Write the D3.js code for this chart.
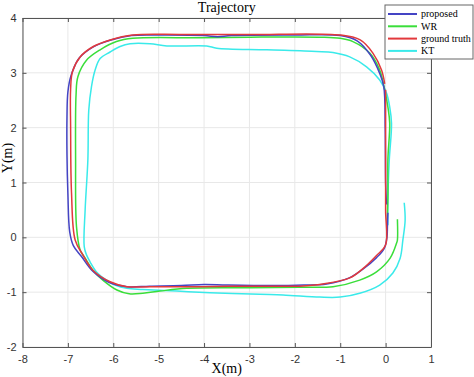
<!DOCTYPE html>
<html>
<head>
<meta charset="utf-8">
<script src="https://cdn.jsdelivr.net/npm/d3@7"></script>
<style>
  body { margin: 0; background: #fff; }
  svg { display: block; }
</style>
</head>
<body>
<svg id="chart" width="474" height="377"></svg>
<script>
// trajectory points, [x, y] in metres
var groundTruth = [
  [0.0, 2.69], [0.0, 1.5], [0.0, 0.5], [0.0, -0.14], [-0.20, -0.33], [-0.50, -0.57],
  [-0.79, -0.74], [-1.38, -0.85], [-1.89, -0.89], [-2.99, -0.89], [-4.09, -0.90],
  [-5.19, -0.90], [-5.70, -0.90], [-6.07, -0.81], [-6.45, -0.60], [-6.67, -0.32],
  [-6.84, -0.05], [-6.92, 0.81], [-6.94, 2.01], [-6.94, 2.70], [-6.90, 3.02],
  [-6.73, 3.29], [-6.44, 3.48], [-6.07, 3.60], [-5.57, 3.69], [-4.5, 3.70],
  [-3.0, 3.70], [-1.0, 3.69], [-0.56, 3.60], [-0.28, 3.36], [-0.09, 3.05],
  [-0.02, 2.80]
];
var proposed = [
  [0.05, 0.45], [0.04, 0.20], [0.03, 0.0], [-0.03, -0.20], [-0.20, -0.37], [-0.50, -0.58],
  [-0.80, -0.74], [-1.30, -0.85], [-1.80, -0.87], [-2.50, -0.88], [-3.50, -0.87],
  [-4.00, -0.86], [-4.50, -0.88], [-5.20, -0.89], [-5.70, -0.90], [-6.10, -0.82],
  [-6.45, -0.62], [-6.70, -0.35], [-6.88, -0.15], [-6.96, 0.10], [-7.00, 0.80],
  [-7.02, 1.50], [-7.02, 2.20], [-7.00, 2.65], [-6.93, 2.95], [-6.75, 3.27],
  [-6.45, 3.47], [-6.05, 3.60], [-5.60, 3.68], [-5.00, 3.69], [-4.00, 3.68],
  [-3.70, 3.66], [-3.40, 3.68], [-2.00, 3.69], [-1.00, 3.68], [-0.62, 3.58],
  [-0.33, 3.32], [-0.13, 2.99], [-0.04, 2.75], [-0.01, 2.00], [0.00, 1.00],
  [0.02, 0.60]
];
var wr = [
  [0.26, 0.33], [0.26, -0.05], [0.24, -0.11], [0.10, -0.38], [-0.20, -0.63],
  [-0.57, -0.78], [-1.16, -0.90], [-1.89, -0.91], [-2.99, -0.92], [-4.38, -0.93],
  [-4.97, -0.98], [-5.35, -1.02], [-5.65, -1.03], [-5.92, -0.96], [-6.23, -0.78],
  [-6.45, -0.60], [-6.62, -0.38], [-6.73, -0.23], [-6.81, 0.19], [-6.83, 1.41],
  [-6.82, 2.60], [-6.78, 2.93], [-6.59, 3.23], [-6.29, 3.42], [-5.93, 3.57],
  [-5.57, 3.63], [-4.09, 3.64], [-2.99, 3.65], [-1.45, 3.65], [-1.00, 3.63],
  [-0.72, 3.57], [-0.35, 3.36], [-0.13, 3.05], [-0.02, 2.69], [0.05, 2.38],
  [0.09, 2.08], [0.05, 1.41], [0.05, 0.73], [0.03, 0.22]
];
var kt = [
  [0.41, 0.63], [0.43, 0.31], [0.38, -0.05], [0.32, -0.38], [0.16, -0.65],
  [-0.13, -0.87], [-0.57, -1.02], [-1.00, -1.09], [-1.45, -1.09], [-2.26, -1.05],
  [-2.77, -1.04], [-3.87, -1.01], [-4.60, -0.98], [-5.35, -0.95], [-5.70, -0.93],
  [-5.96, -0.87], [-6.15, -0.78], [-6.37, -0.63], [-6.51, -0.45], [-6.59, -0.32],
  [-6.64, -0.17], [-6.62, 0.50], [-6.56, 1.41], [-6.54, 2.32], [-6.48, 2.75],
  [-6.40, 3.05], [-6.29, 3.26], [-6.07, 3.38], [-5.85, 3.48], [-5.63, 3.53],
  [-5.19, 3.53], [-4.82, 3.49], [-3.94, 3.49], [-3.72, 3.45], [-2.62, 3.42],
  [-1.52, 3.39], [-1.16, 3.37], [-0.79, 3.29], [-0.42, 3.11], [-0.13, 2.87],
  [0.02, 2.63], [0.09, 2.38], [0.13, 2.08], [0.08, 1.40], [0.05, 0.68],
  [0.05, 0.22]
];

var xTicks = [-8, -7, -6, -5, -4, -3, -2, -1, 0, 1];
var yTicks = [-2, -1, 0, 1, 2, 3, 4];

var seriesNames = ["proposed", "WR", "ground truth", "KT"];
var seriesColors = ["#4444c4", "#3ade3a", "#e2393c", "#3aeaea"];
var seriesData = [proposed, wr, groundTruth, kt];

var svg = d3.select("#chart"),
    margin = {top: 18, right: 43, bottom: 30, left: 22.5},
    width = +svg.attr("width") - margin.left - margin.right,
    height = +svg.attr("height") - margin.top - margin.bottom,
    g = svg.append("g").attr("transform", "translate(" + margin.left + "," + margin.top + ")");

var x = d3.scaleLinear().domain([-8, 1]).range([0, width]);
var y = d3.scaleLinear().domain([-2, 4]).range([height, 0]);

// grid
g.append("g").selectAll("line").data(xTicks).join("line")
    .attr("x1", function(d) { return x(d); }).attr("x2", function(d) { return x(d); })
    .attr("y1", 0).attr("y2", height)
    .attr("stroke", "#e8e8e8").attr("stroke-width", 1);
g.append("g").selectAll("line").data(yTicks).join("line")
    .attr("y1", function(d) { return y(d); }).attr("y2", function(d) { return y(d); })
    .attr("x1", 0).attr("x2", width)
    .attr("stroke", "#e8e8e8").attr("stroke-width", 1);

var sans = "Liberation Sans, Arial, sans-serif";
var serif = "Liberation Serif, Times New Roman, serif";
var plain = function(d) { return String(d); };

// axes, matlab style: ticks inside, box on all sides
g.append("g")
    .attr("transform", "translate(0," + height + ")")
    .call(d3.axisBottom(x).tickValues(xTicks).tickFormat(plain).tickSizeInner(-4).tickSizeOuter(0).tickPadding(8));
g.append("g")
    .call(d3.axisLeft(y).tickValues(yTicks).tickFormat(plain).tickSizeInner(-4).tickSizeOuter(0).tickPadding(6));
g.append("g")
    .call(d3.axisTop(x).tickValues(xTicks).tickSizeInner(-4).tickSizeOuter(0).tickFormat(""));
g.append("g")
    .attr("transform", "translate(" + width + ",0)")
    .call(d3.axisRight(y).tickValues(yTicks).tickSizeInner(-4).tickSizeOuter(0).tickFormat(""));

g.selectAll(".domain").attr("stroke", "#555");
g.selectAll(".tick line").attr("stroke", "#555");
g.selectAll(".tick text").attr("fill", "#333").style("font-family", sans).style("font-size", "11px");

// trajectories
var line = d3.line()
    .x(function(d) { return x(d[0]); })
    .y(function(d) { return y(d[1]); })
    .curve(d3.curveCatmullRom.alpha(0.5));

[3, 1, 0, 2].forEach(function(i) {
  g.append("path")
      .datum(seriesData[i])
      .attr("fill", "none")
      .attr("stroke", seriesColors[i])
      .attr("stroke-width", 1.5)
      .attr("stroke-linejoin", "round")
      .attr("d", line);
});

// labels
svg.append("text")
    .attr("x", margin.left + width / 2).attr("y", 12)
    .attr("text-anchor", "middle")
    .style("font-family", serif).style("font-size", "14px")
    .text("Trajectory");
svg.append("text")
    .attr("x", margin.left + width / 2).attr("y", 373)
    .attr("text-anchor", "middle")
    .style("font-family", serif).style("font-size", "14px")
    .text("X(m)");
svg.append("text")
    .attr("transform", "translate(12,158) rotate(-90)")
    .attr("text-anchor", "middle")
    .style("font-family", serif).style("font-size", "14px")
    .text("Y(m)");

// legend
var legend = svg.append("g").attr("transform", "translate(385,5)");
legend.append("rect")
    .attr("width", 88).attr("height", 54)
    .attr("fill", "#fff").attr("stroke", "#666").attr("stroke-width", 1);
var item = legend.selectAll(".item").data(seriesNames).join("g")
    .attr("class", "item")
    .attr("transform", function(d, i) { return "translate(0," + (9 + i * 12.3) + ")"; });
item.append("line")
    .attr("x1", 3).attr("x2", 32)
    .attr("stroke", function(d, i) { return seriesColors[i]; })
    .attr("stroke-width", 2);
item.append("text")
    .attr("x", 36).attr("dy", "0.32em")
    .style("font-family", serif).style("font-size", "10px")
    .text(function(d) { return d; });
</script>
</body>
</html>
